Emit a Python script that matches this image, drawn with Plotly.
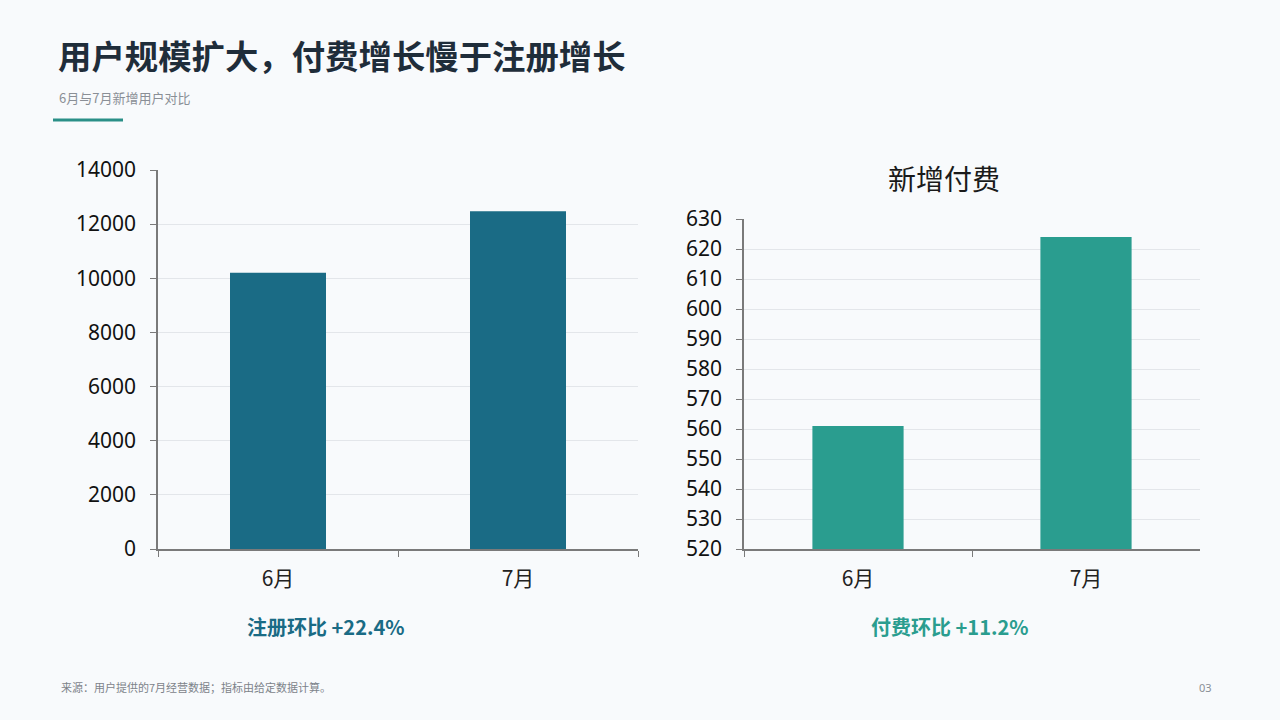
import plotly.graph_objects as go

months = ["6月", "7月"]
registered = [10200, 12480]
paid = [561, 624]

title_text = "用户规模扩大，付费增长慢于注册增长"
subtitle_text = "6月与7月新增用户对比"
right_title = "新增付费"
source_text = "来源：用户提供的7月经营数据；指标由给定数据计算。"
page_no = "03"

reg_growth = (registered[1] / registered[0] - 1) * 100
paid_growth = (paid[1] / paid[0] - 1) * 100

BG = "#f8fafc"
C_REG = "#1a6b85"
C_PAID = "#2a9d8f"
AXIS = "#7a7a7a"
GRID = "#e3e6ea"
CJK = "Noto Sans CJK SC"
NUMF = "Noto Sans, Noto Sans CJK SC"

fig = go.Figure()
fig.add_trace(go.Bar(x=months, y=registered, marker=dict(color=C_REG, line=dict(width=0)),
                     width=0.4, xaxis="x", yaxis="y", showlegend=False))
fig.add_trace(go.Bar(x=months, y=paid, marker=dict(color=C_PAID, line=dict(width=0)),
                     width=0.4, xaxis="x2", yaxis="y2", showlegend=False))

W, H = 1280, 720
def px_x(a, b):
    return [a / W, b / W]
def px_y(top, bottom):
    return [1 - bottom / H, 1 - top / H]

common_x = dict(type="category", tickson="boundaries", ticks="outside", ticklen=6,
                tickcolor=AXIS, tickwidth=1.3, showline=True, linecolor=AXIS, linewidth=1.5,
                showgrid=False, range=[-0.5, 1.5], tickfont=dict(family=CJK, size=21, color="#222"),
                ticklabelstandoff=10, fixedrange=True, automargin=False)
common_y = dict(ticks="outside", ticklen=6, tickcolor=AXIS, tickwidth=1.3, showline=True,
                linecolor=AXIS, linewidth=1.5, showgrid=True, gridcolor=GRID, gridwidth=1,
                zeroline=False, tickformat="d", tickfont=dict(family=NUMF, size=21, color="#111"),
                ticklabelstandoff=10, fixedrange=True, automargin=False)

fig.update_layout(
    width=W, height=H, autosize=False,
    paper_bgcolor=BG, plot_bgcolor=BG,
    margin=dict(l=0, r=0, t=0, b=0, pad=0),
    bargap=0.6,
    xaxis=dict(domain=px_x(158, 638), anchor="y", **common_x),
    yaxis=dict(domain=px_y(170, 549), anchor="x", range=[0, 14000], dtick=2000, **common_y),
    xaxis2=dict(domain=px_x(744, 1200), anchor="y2", **common_x),
    yaxis2=dict(domain=px_y(219, 549), anchor="x2", range=[520, 630], dtick=10, **common_y),
)

annotations = [
    dict(text=f"<b>{title_text}</b>", x=56 / W, y=1 - 55 / H, xanchor="left", yanchor="middle",
         font=dict(family=CJK, size=33.4, color="#1f2d3a")),
    dict(text=subtitle_text, x=57 / W, y=1 - 98 / H, xanchor="left", yanchor="middle",
         font=dict(family=CJK, size=13, color="#8a8f96")),
    dict(text=right_title, x=944 / W, y=1 - 178 / H, xanchor="center", yanchor="middle",
         font=dict(family=CJK, size=28, color="#1a1a1a")),
    dict(text=f"<b>注册环比 +{reg_growth:.1f}%</b>", x=326 / W, y=1 - 626 / H, xanchor="center",
         yanchor="middle", font=dict(family=CJK, size=20, color=C_REG)),
    dict(text=f"<b>付费环比 +{paid_growth:.1f}%</b>", x=950 / W, y=1 - 626 / H, xanchor="center",
         yanchor="middle", font=dict(family=CJK, size=20, color=C_PAID)),
    dict(text=source_text, x=59 / W, y=1 - 687 / H, xanchor="left", yanchor="middle",
         font=dict(family=CJK, size=11, color="#7d838a")),
    dict(text=page_no, x=1214 / W, y=1 - 687 / H, xanchor="right", yanchor="middle",
         font=dict(family=NUMF, size=11, color="#8a8f96")),
]
for a in annotations:
    a.update(xref="paper", yref="paper", showarrow=False)
fig.update_layout(annotations=annotations)

fig.add_shape(type="line", xref="paper", yref="paper", x0=53 / W, x1=123 / W,
              y0=1 - 120 / H, y1=1 - 120 / H, line=dict(color="#2a8f87", width=3))

fig.write_html("out.html", config={"displayModeBar": False},
               post_script="document.body.style.margin='0';document.body.style.background='" + BG + "';")
